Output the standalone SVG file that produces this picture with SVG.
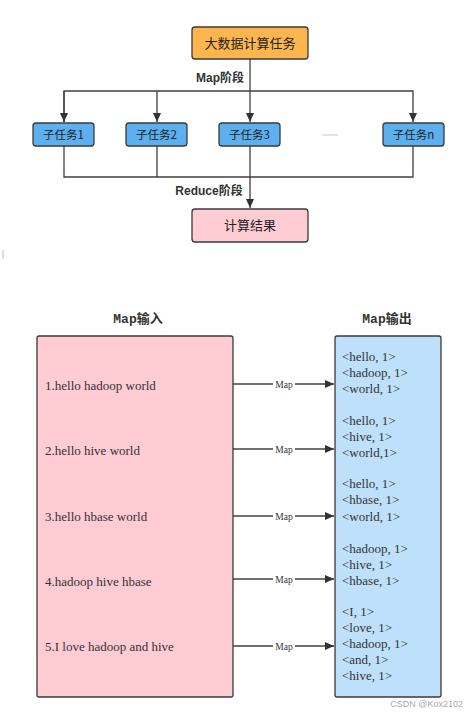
<svg xmlns="http://www.w3.org/2000/svg" width="474" height="714" viewBox="0 0 474 714">
<style>
.box{stroke:#3a3a3a;stroke-width:1.3}
.ln{stroke:#404040;stroke-width:1.3;fill:none}
.cjk{font-family:"Noto Sans CJK SC","Noto Sans",sans-serif;fill:#222}
.lbl{font-family:"Liberation Sans","Noto Sans CJK SC",sans-serif;font-weight:bold;font-size:12px;fill:#333}
.ser{font-family:"Liberation Serif","Noto Sans CJK SC",serif;font-size:13px;fill:#333}
.hd{font-family:"Liberation Mono","Noto Sans CJK SC",monospace;font-weight:bold;font-size:13px;fill:#333}
.ml{font-family:"Liberation Serif",serif;font-size:9.5px;fill:#333}
</style>
<defs>
<marker id="ah" markerWidth="10" markerHeight="8" refX="9" refY="4" orient="auto" markerUnits="userSpaceOnUse">
<path d="M0,0 L9,4 L0,8 Z" fill="#333"/>
</marker>
</defs>
<rect width="474" height="714" fill="#fff"/>
<g id="connectors">
<line class="ln" x1="250" y1="59" x2="250" y2="122" marker-end="url(#ah)"/>
<polyline class="ln" points="64,122 64,91 413,91 413,122" marker-end="url(#ah)"/>
<line class="ln" x1="64" y1="91" x2="64" y2="122" marker-end="url(#ah)"/>
<line class="ln" x1="157" y1="91" x2="157" y2="122" marker-end="url(#ah)"/>
<polyline class="ln" points="64,146 64,177 413,177 413,146"/>
<line class="ln" x1="157" y1="146" x2="157" y2="177"/>
<line class="ln" x1="250" y1="146" x2="250" y2="208" marker-end="url(#ah)"/>
<g id="map-arrows">
<line class="ln" x1="233" y1="384" x2="334" y2="384" marker-end="url(#ah)"/>
<line class="ln" x1="233" y1="449" x2="334" y2="449" marker-end="url(#ah)"/>
<line class="ln" x1="233" y1="516" x2="334" y2="516" marker-end="url(#ah)"/>
<line class="ln" x1="233" y1="579" x2="334" y2="579" marker-end="url(#ah)"/>
<line class="ln" x1="233" y1="646" x2="334" y2="646" marker-end="url(#ah)"/>
<g fill="#fff"><rect x="273" y="378" width="22" height="12"/><rect x="273" y="443" width="22" height="12"/><rect x="273" y="510" width="22" height="12"/><rect x="273" y="573" width="22" height="12"/><rect x="273" y="640" width="22" height="12"/></g>
<g class="ml" text-anchor="middle"><text x="284" y="387.5">Map</text><text x="284" y="452.5">Map</text><text x="284" y="519.5">Map</text><text x="284" y="582.5">Map</text><text x="284" y="649.5">Map</text></g>
</g>
<text class="lbl" x="220" y="82" text-anchor="middle">Map阶段</text>
<text class="lbl" x="209" y="195" text-anchor="middle">Reduce阶段</text>
</g>
<g id="task">
<rect class="box" x="192" y="27" width="116" height="32" rx="3" fill="#FDB64E"/>
<text class="cjk" x="250" y="48" font-size="13" text-anchor="middle">大数据计算任务</text>
</g>
<g id="sub1"><rect class="box" x="33" y="123" width="61" height="23" rx="3" fill="#5CB0F0"/><text class="cjk" x="63.5" y="139" font-size="11.5" text-anchor="middle">子任务1</text></g>
<g id="sub2"><rect class="box" x="126" y="123" width="61" height="23" rx="3" fill="#5CB0F0"/><text class="cjk" x="156.5" y="139" font-size="11.5" text-anchor="middle">子任务2</text></g>
<g id="sub3"><rect class="box" x="219" y="123" width="61" height="23" rx="3" fill="#5CB0F0"/><text class="cjk" x="249.5" y="139" font-size="11.5" text-anchor="middle">子任务3</text></g>
<g id="subn"><rect class="box" x="383" y="123" width="61" height="23" rx="3" fill="#5CB0F0"/><text class="cjk" x="413.5" y="139" font-size="11.5" text-anchor="middle">子任务n</text></g>
<line x1="322" y1="135" x2="338" y2="135" stroke="#c8c8c8" stroke-width="1"/>
<g id="result">
<rect class="box" x="192" y="209" width="116" height="33" rx="3" fill="#FFCCD4"/>
<text class="cjk" x="250" y="230" font-size="13" text-anchor="middle">计算结果</text>
</g>
<line x1="3" y1="250" x2="3" y2="259" stroke="#bbb" stroke-width="1"/>
<text class="hd" x="138" y="323" text-anchor="middle">Map输入</text>
<text class="hd" x="387" y="323" text-anchor="middle">Map输出</text>
<g id="map-input">
<rect class="box" x="37" y="336" width="196" height="361" rx="2" fill="#FFCCD4"/>
<g class="ser">
<text x="45" y="390">1.hello hadoop world</text>
<text x="45" y="455">2.hello hive world</text>
<text x="45" y="521">3.hello hbase world</text>
<text x="45" y="586">4.hadoop hive hbase</text>
<text x="45" y="651">5.I love hadoop and hive</text>
</g>
</g>
<g id="map-output">
<rect class="box" x="335" y="336" width="106" height="361" rx="2" fill="#BEE0FA"/>
<g class="ser">
<text x="342" y="361">&lt;hello, 1&gt;</text>
<text x="342" y="377">&lt;hadoop, 1&gt;</text>
<text x="342" y="393">&lt;world, 1&gt;</text>
<text x="342" y="425">&lt;hello, 1&gt;</text>
<text x="342" y="441">&lt;hive, 1&gt;</text>
<text x="342" y="457">&lt;world,1&gt;</text>
<text x="342" y="488">&lt;hello, 1&gt;</text>
<text x="342" y="504">&lt;hbase, 1&gt;</text>
<text x="342" y="521">&lt;world, 1&gt;</text>
<text x="342" y="553">&lt;hadoop, 1&gt;</text>
<text x="342" y="569">&lt;hive, 1&gt;</text>
<text x="342" y="585">&lt;hbase, 1&gt;</text>
<text x="342" y="616">&lt;I, 1&gt;</text>
<text x="342" y="632">&lt;love, 1&gt;</text>
<text x="342" y="648">&lt;hadoop, 1&gt;</text>
<text x="342" y="664">&lt;and, 1&gt;</text>
<text x="342" y="680">&lt;hive, 1&gt;</text>
</g>
</g>
<text x="463" y="707" text-anchor="end" font-family="Liberation Sans, sans-serif" font-size="9" fill="#aaa">CSDN @Kox2102</text>
</svg>
